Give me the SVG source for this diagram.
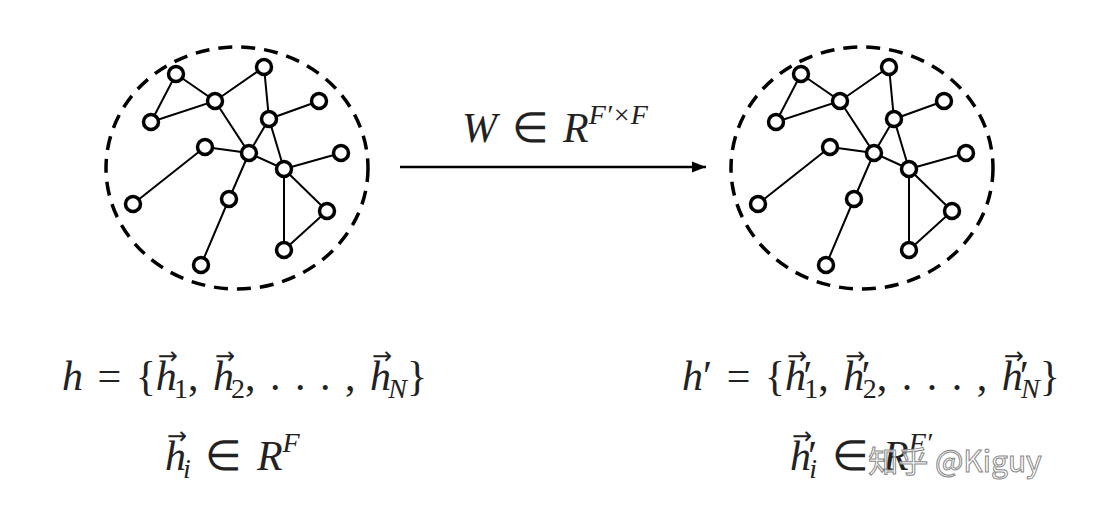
<svg xmlns="http://www.w3.org/2000/svg" width="1094" height="512" viewBox="0 0 1094 512">
<style>
.e{stroke:#000;stroke-width:2;fill:none}
.n{stroke:#000;stroke-width:3.5;fill:#fff}
.b .n{fill:#5b9bd5}
.ring{fill:none;stroke:#000;stroke-width:3.5;stroke-dasharray:14,9}
.m{font-family:"Liberation Serif",serif;font-size:42px;fill:#222;word-spacing:4px}
.i{font-style:italic}
.v{font-size:24px;font-style:normal;font-family:"DejaVu Sans",sans-serif}
.s{font-size:28px}
</style>
<defs>
<marker id="ah" viewBox="0 0 10 10" refX="10" refY="5" markerWidth="14" markerHeight="14" markerUnits="userSpaceOnUse" orient="auto"><path d="M0,1 L10,5 L0,9z" fill="#000"/></marker>
<g id="graph">
<g class="edges">
<path class="e" d="M176,74L151,122L215,101L176,74M215,101L264,67L269,119L319,101M215,101L249,153L269,119L284,169M205,147L249,153L284,169M205,147L133,204M249,153L229,199L201,265M284,169L341,153M284,169L327,211L284,250L284,169"/>
</g>
<g id="nodes">
<circle class="n" cx="176" cy="74" r="7.5"/><circle class="n" cx="264" cy="67" r="7.5"/><circle class="n" cx="215" cy="101" r="7.5"/><circle class="n" cx="151" cy="122" r="7.5"/><circle class="n" cx="319" cy="101" r="7.5"/><circle class="n" cx="269" cy="119" r="7.5"/><circle class="n" cx="205" cy="147" r="7.5"/><circle class="n" cx="249" cy="153" r="7.5"/><circle class="n" cx="341" cy="153" r="7.5"/><circle class="n" cx="284" cy="169" r="7.5"/><circle class="n" cx="133" cy="204" r="7.5"/><circle class="n" cx="229" cy="199" r="7.5"/><circle class="n" cx="327" cy="211" r="7.5"/><circle class="n" cx="284" cy="250" r="7.5"/><circle class="n" cx="201" cy="265" r="7.5"/>
</g>
<ellipse class="ring" cx="237" cy="168" rx="131" ry="121"/>
</g>
</defs>
<g id="input-graph"><use href="#graph"/></g>
<g id="output-graph" class="b"><use href="#graph" x="625"/></g>
<g id="connectors"><line x1="400" y1="167" x2="706" y2="167" stroke="#000" stroke-width="2.5" marker-end="url(#ah)"/></g>
<g id="labels">
<text class="m" x="555" y="142" text-anchor="middle"><tspan class="i">W</tspan> ∈ <tspan class="i">R</tspan><tspan class="i s" dy="-18">F′×F</tspan></text>
<text class="m" x="62" y="390"><tspan class="i">h</tspan> = {<tspan class="i">h</tspan><tspan class="v" dx="-19" dy="-26">→</tspan><tspan class="s" dx="-4" dy="34">1</tspan><tspan dy="-8">, </tspan><tspan class="i">h</tspan><tspan class="v" dx="-19" dy="-26">→</tspan><tspan class="s" dx="-4" dy="34">2</tspan><tspan dy="-8">, . . . , </tspan><tspan class="i">h</tspan><tspan class="v" dx="-19" dy="-26">→</tspan><tspan class="i s" dx="-4" dy="34">N</tspan><tspan dy="-8">}</tspan></text>
<text class="m" x="165" y="470"><tspan class="i">h</tspan><tspan class="v" dx="-19" dy="-26">→</tspan><tspan class="i s" dx="-4" dy="34">i</tspan><tspan dy="-8"> ∈ </tspan><tspan class="i">R</tspan><tspan class="i s" dy="-18">F</tspan></text>
<text class="m" x="682" y="390"><tspan class="i">h</tspan>′ = {<tspan class="i">h</tspan><tspan class="v" dx="-19" dy="-26">→</tspan><tspan dx="-4" dy="26">′</tspan><tspan class="s" dx="-8" dy="8">1</tspan><tspan dy="-8">, </tspan><tspan class="i">h</tspan><tspan class="v" dx="-19" dy="-26">→</tspan><tspan dx="-4" dy="26">′</tspan><tspan class="s" dx="-8" dy="8">2</tspan><tspan dy="-8">, . . . , </tspan><tspan class="i">h</tspan><tspan class="v" dx="-19" dy="-26">→</tspan><tspan dx="-4" dy="26">′</tspan><tspan class="i s" dx="-8" dy="8">N</tspan><tspan dy="-8">}</tspan></text>
<text class="m" x="790" y="470"><tspan class="i">h</tspan><tspan class="v" dx="-19" dy="-26">→</tspan><tspan dx="-4" dy="26">′</tspan><tspan class="i s" dx="-8" dy="8">i</tspan><tspan dy="-8"> ∈ </tspan><tspan class="i">R</tspan><tspan class="i s" dy="-18">F′</tspan></text>
<text x="955" y="472" text-anchor="middle" font-family="'Noto Sans CJK SC','Noto Sans',sans-serif" font-size="30" fill="#fff" fill-opacity="0.75" stroke="#888" stroke-width="1">知乎 @Kiguy</text>
</g>
</svg>
